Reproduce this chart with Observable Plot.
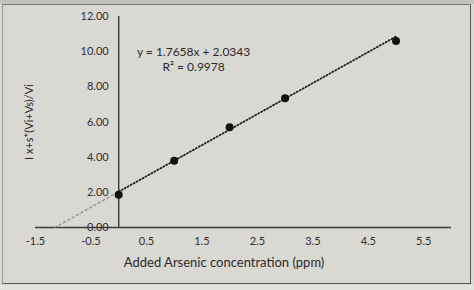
<!DOCTYPE html>
<html>
<head>
<meta charset="utf-8">
<script src="https://cdn.jsdelivr.net/npm/d3@7"></script>
<script src="https://cdn.jsdelivr.net/npm/@observablehq/plot@0.6"></script>
<style>
  html, body { margin: 0; padding: 0; background: #dad8d3; }
  #wrap { position: relative; width: 474px; height: 290px; overflow: hidden; background: #dad8d3; }
  #top { position: absolute; left: 0; top: 0; width: 474px; height: 4px; background: #c4c2be; }
  #border { position: absolute; left: 2px; top: 4px; width: 467px; height: 278px; border: 1.5px solid #5a5a5a; border-left-color: #9a9a9a; border-top-color: #7a7a7a; }
  #below { position: absolute; left: 0; top: 285px; width: 474px; height: 5px; background: #e4e2de; }
  svg { position: absolute; left: 0; top: 0; }
</style>
</head>
<body>
<div id="wrap"><div id="top"></div><div id="below"></div><div id="border"></div></div>
<script>
// Data
const addedConc = [0, 1, 2, 3, 5];
const signal = [1.86, 3.8, 5.7, 7.35, 10.6];
const slope = [1.7658];
const intercept = [2.0343];
const rSquared = [0.9978];
const xTicks = [-1.5, -0.5, 0.5, 1.5, 2.5, 3.5, 4.5, 5.5];
const yTicks = [0, 2, 4, 6, 8, 10, 12];
const xTitle = "Added Arsenic concentration (ppm)";
const yTitle = "I x+s*(Vi+Vs)/Vi";

const points = addedConc.map((x, i) => ({x, y: signal[i]}));
const m = slope[0], b = intercept[0];
const xZero = -b / m;
const fitForward = [0, 5].map(x => ({x, y: m * x + b}));
const fitBackward = [xZero, 0].map(x => ({x, y: m * x + b}));
const eqText = `y = ${m}x + ${b}`;
const r2Text = `R² = ${rSquared[0]}`;

const font = "Lato, 'Open Sans', sans-serif";

const chart = Plot.plot({
  width: 474,
  height: 290,
  marginLeft: 35,
  marginRight: 23,
  marginTop: 16,
  marginBottom: 63,
  x: {domain: [-1.5, 6], axis: null},
  y: {domain: [0, 12], axis: null},
  style: {background: "transparent", fontFamily: font, color: "#2a2a2a"},
  marks: [
    Plot.ruleY([0], {stroke: "#3a3a3a", strokeWidth: 1.6}),
    Plot.ruleX([0], {y1: 0, y2: 12, stroke: "#3a3a3a", strokeWidth: 1.4}),
    Plot.line(fitBackward, {x: "x", y: "y", stroke: "#8a8a8a", strokeWidth: 1.3, strokeDasharray: "2,3"}),
    Plot.line(fitForward, {x: "x", y: "y", stroke: "#222", strokeWidth: 1.8, strokeDasharray: "1.2,2.2"}),
    Plot.dot(points, {x: "x", y: "y", r: 4, fill: "#111", stroke: "none"}),
    Plot.text(yTicks, {x: 0, y: d => d, text: d => d.toFixed(2), textAnchor: "end", dx: -10, fontSize: 11, fill: "#2e2e2e"}),
    Plot.text(xTicks, {x: d => d, y: 0, text: d => String(d), dy: 14, fontSize: 11, fill: "#2e2e2e"}),
    Plot.text([eqText], {x: 1.35, y: 10.0, text: d => d, fontSize: 12, fill: "#2a2a2a"}),
    Plot.text([r2Text], {x: 1.35, y: 9.1, text: d => d, fontSize: 12, fill: "#2a2a2a"}),
    Plot.text([xTitle], {x: 1.9, y: 0, text: d => d, dy: 35, fontSize: 13, fill: "#2a2a2a"}),
    Plot.text([yTitle], {x: -1.5, y: 6, text: d => d, dx: -6, rotate: -90, fontSize: 11, fill: "#2a2a2a"})
  ]
});
document.getElementById("wrap").appendChild(chart);
</script>
</body>
</html>
